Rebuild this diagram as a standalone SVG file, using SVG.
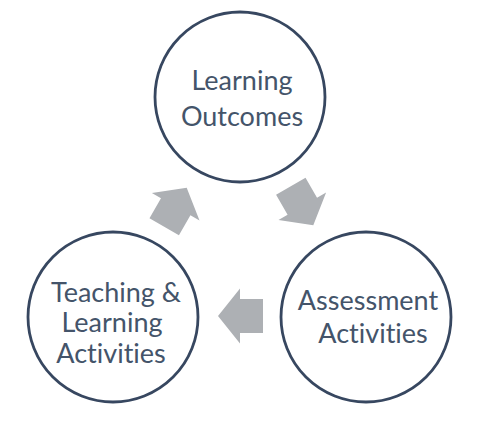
<svg xmlns="http://www.w3.org/2000/svg" width="479" height="432" viewBox="0 0 479 432">
  <defs>
    <style>
      .node circle { fill: #ffffff; stroke: #374760; stroke-width: 2.8; }
      .node text { font-family: "Lato", "Open Sans", "Liberation Sans", sans-serif; font-size: 27px; fill: #44546a; text-anchor: middle; font-variant-ligatures: none; font-feature-settings: "liga" 0, "clig" 0; }
      .arrow { fill: #adb0b4; }
    </style>
    <path id="arr" d="M0,-17 L23,-17 L23,-27.5 L45,0 L23,27.5 L23,17 L0,17 Z"/>
  </defs>
  <rect width="479" height="432" fill="#ffffff"/>
  <g id="connectors">
    <use href="#arr" class="arrow" transform="translate(290.8,186.3) rotate(60)"/>
    <use href="#arr" class="arrow" transform="translate(263,316) rotate(180)"/>
    <use href="#arr" class="arrow" transform="translate(164.2,226.7) rotate(-60)"/>
  </g>
  <g id="node-learning-outcomes" class="node">
    <circle cx="240" cy="97" r="85"/>
    <text x="242" y="90">Learning</text>
    <text x="242" y="126">Outcomes</text>
  </g>
  <g id="node-assessment-activities" class="node">
    <circle cx="366" cy="317" r="85"/>
    <text x="368" y="310">Assessment</text>
    <text x="373" y="343">Activities</text>
  </g>
  <g id="node-teaching-learning" class="node">
    <circle cx="113" cy="317" r="85"/>
    <text x="116" y="302">Teaching &amp;</text>
    <text x="112" y="332">Learning</text>
    <text x="111" y="363">Activities</text>
  </g>
</svg>
